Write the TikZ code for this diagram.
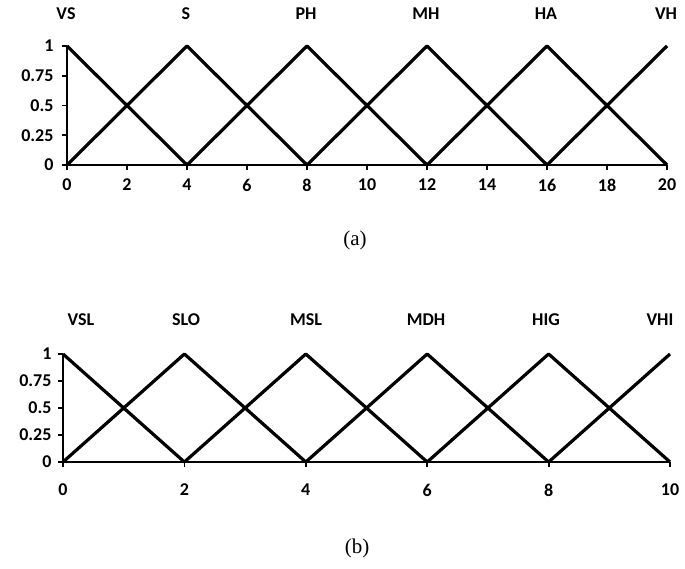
\documentclass[tikz,border=0pt]{standalone}
\usepackage{fontspec}
\setmainfont{Liberation Serif}
\newfontfamily\carlitofont{Carlito}
\begin{document}
\begin{tikzpicture}[x=1pt,y=-1pt,
  lab/.style={font=\carlitofont\bfseries\fontsize{18}{20}\selectfont},
  tri/.style={line width=3.2pt,line join=round},
  ax/.style={line width=1.8pt}]
\useasboundingbox (0,0) rectangle (685,569);
% (a)
\draw[ax] (67,46) -- (67,165) -- (667,165);
\foreach \v/\t in {0/0,0.25/0.25,0.5/0.5,0.75/0.75,1/1}{
  \draw[ax] (62,165-119*\v) -- (67,165-119*\v);
  \node[lab,anchor=east] at (57,165-119*\v) {\t};}
\foreach \v in {0,2,...,20}{
  \draw[ax] (67+30*\v,165) -- (67+30*\v,170);
  \node[lab] at (67+30*\v,185) {\v};}
\draw[tri] (67,46) -- (187,165);
\foreach \c in {4,8,12,16}{\draw[tri] (67+30*\c-120,165) -- (67+30*\c,46) -- (67+30*\c+120,165);}
\draw[tri] (547,165) -- (667,46);
\foreach \c/\t in {0/VS,4/S,8/PH,12/MH,16/HA,20/VH}{\node[lab] at (67+30*\c-1,14) {\t};}
\node[font=\fontsize{21}{24}\selectfont] at (355,240) {(a)};
% (b)
\draw[ax] (63,354) -- (63,462) -- (670,462);
\foreach \v/\t in {0/0,0.25/0.25,0.5/0.5,0.75/0.75,1/1}{
  \draw[ax] (58,462-108*\v) -- (63,462-108*\v);
  \node[lab,anchor=east] at (55,462-108*\v) {\t};}
\foreach \v in {0,2,...,10}{
  \draw[ax] (63+60.7*\v,462) -- (63+60.7*\v,467);
  \node[lab] at (63+60.7*\v,490) {\v};}
\draw[tri] (63,354) -- (184.4,462);
\foreach \c in {2,4,6,8}{\draw[tri] (63+60.7*\c-121.4,462) -- (63+60.7*\c,354) -- (63+60.7*\c+121.4,462);}
\draw[tri] (548.6,462) -- (670,354);
\foreach \x/\t in {81/VSL,186/SLO,306/MSL,426/MDH,546/HIG,660/VHI}{\node[lab] at (\x,320) {\t};}
\node[font=\fontsize{21}{24}\selectfont] at (357,548) {(b)};
\end{tikzpicture}
\end{document}
